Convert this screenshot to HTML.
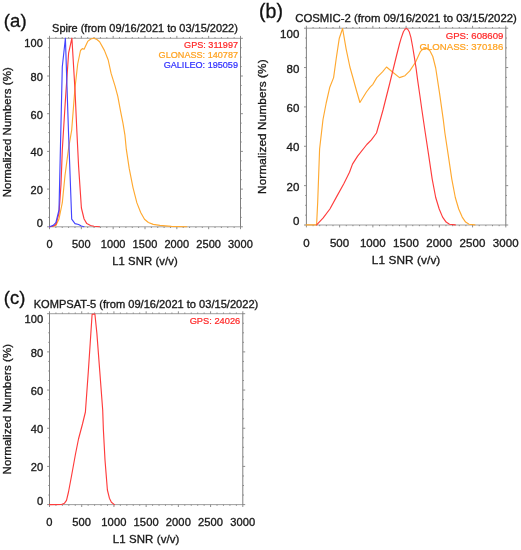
<!DOCTYPE html>
<html><head><meta charset="utf-8"><title>L1 SNR distributions</title>
<style>
html,body{margin:0;padding:0;background:#fff;}
svg{display:block;font-family:"Liberation Sans", sans-serif;}
text{stroke-width:0.34px;letter-spacing:0.1px;}
text.k{stroke:#1a1a1a;}
</style></head>
<body>
<svg width="521" height="550" viewBox="0 0 521 550">
<rect width="521" height="550" fill="#fff"/>
<path d="M49.5 38.0V227.10000000000002M240.5 38.0V227.10000000000002" stroke="#707070" stroke-width="0.9" fill="none"/>
<path d="M49.2 38.3H240.8M49.2 226.8H240.8" stroke="#8e8e8e" stroke-width="0.85" fill="none"/>
<path d="M49.50 226.8v2.4M49.50 38.3v-2.4M55.87 226.8v1.2M55.87 38.3v-1.2M62.23 226.8v1.2M62.23 38.3v-1.2M68.60 226.8v1.2M68.60 38.3v-1.2M74.97 226.8v1.2M74.97 38.3v-1.2M81.33 226.8v2.4M81.33 38.3v-2.4M87.70 226.8v1.2M87.70 38.3v-1.2M94.07 226.8v1.2M94.07 38.3v-1.2M100.43 226.8v1.2M100.43 38.3v-1.2M106.80 226.8v1.2M106.80 38.3v-1.2M113.17 226.8v2.4M113.17 38.3v-2.4M119.53 226.8v1.2M119.53 38.3v-1.2M125.90 226.8v1.2M125.90 38.3v-1.2M132.27 226.8v1.2M132.27 38.3v-1.2M138.63 226.8v1.2M138.63 38.3v-1.2M145.00 226.8v2.4M145.00 38.3v-2.4M151.37 226.8v1.2M151.37 38.3v-1.2M157.73 226.8v1.2M157.73 38.3v-1.2M164.10 226.8v1.2M164.10 38.3v-1.2M170.47 226.8v1.2M170.47 38.3v-1.2M176.83 226.8v2.4M176.83 38.3v-2.4M183.20 226.8v1.2M183.20 38.3v-1.2M189.57 226.8v1.2M189.57 38.3v-1.2M195.93 226.8v1.2M195.93 38.3v-1.2M202.30 226.8v1.2M202.30 38.3v-1.2M208.67 226.8v2.4M208.67 38.3v-2.4M215.03 226.8v1.2M215.03 38.3v-1.2M221.40 226.8v1.2M221.40 38.3v-1.2M227.77 226.8v1.2M227.77 38.3v-1.2M234.13 226.8v1.2M234.13 38.3v-1.2M240.50 226.8v2.4M240.50 38.3v-2.4M49.5 226.80h-2.4M240.5 226.80h2.4M49.5 217.38h-1.2M240.5 217.38h1.2M49.5 207.95h-1.2M240.5 207.95h1.2M49.5 198.53h-1.2M240.5 198.53h1.2M49.5 189.10h-2.4M240.5 189.10h2.4M49.5 179.68h-1.2M240.5 179.68h1.2M49.5 170.25h-1.2M240.5 170.25h1.2M49.5 160.83h-1.2M240.5 160.83h1.2M49.5 151.40h-2.4M240.5 151.40h2.4M49.5 141.98h-1.2M240.5 141.98h1.2M49.5 132.55h-1.2M240.5 132.55h1.2M49.5 123.13h-1.2M240.5 123.13h1.2M49.5 113.70h-2.4M240.5 113.70h2.4M49.5 104.28h-1.2M240.5 104.28h1.2M49.5 94.85h-1.2M240.5 94.85h1.2M49.5 85.43h-1.2M240.5 85.43h1.2M49.5 76.00h-2.4M240.5 76.00h2.4M49.5 66.58h-1.2M240.5 66.58h1.2M49.5 57.15h-1.2M240.5 57.15h1.2M49.5 47.73h-1.2M240.5 47.73h1.2M49.5 38.30h-2.4M240.5 38.30h2.4" stroke="#828282" stroke-width="0.9" fill="none"/>
<polyline points="49.5,226.7 52.7,226.3 55.9,225.4 59.0,219.0 62.3,202.7 65.0,175.5 68.6,148.2 71.7,130.0 75.0,87.7 77.7,64.0 80.5,50.5 82.3,48.6 84.1,49.2 87.7,41.4 90.8,39.0 93.8,38.2 96.9,39.5 99.6,41.7 104.4,50.4 108.2,60.0 111.1,73.4 115.0,85.9 117.8,96.4 120.7,111.8 123.0,123.3 124.9,134.8 126.3,149.2 129.2,168.4 133.0,187.6 136.9,202.9 140.7,212.5 144.5,219.3 148.4,222.5 153.2,224.4 159.9,225.4 171.4,226.4 186.8,226.7" fill="none" stroke="#ffa930" stroke-width="1.15" stroke-linejoin="round" stroke-linecap="round"/>
<polyline points="49.5,226.7 52.7,226.2 55.9,224.5 59.0,213.0 61.0,184.5 62.3,150.0 65.4,100.0 68.6,53.2 71.9,38.2 75.0,90.0 76.8,130.0 78.6,166.4 81.4,208.0 84.1,219.0 86.8,223.6 90.5,225.5 94.0,226.2 99.5,226.7" fill="none" stroke="#ff3c3c" stroke-width="1.15" stroke-linejoin="round" stroke-linecap="round"/>
<polyline points="49.5,226.7 53.2,225.4 55.9,222.7 59.0,210.0 62.3,66.8 65.4,38.2 68.6,135.0 71.7,219.1 75.0,223.6 78.6,224.5 81.3,226.0 84.0,226.7" fill="none" stroke="#4444ff" stroke-width="1.15" stroke-linejoin="round" stroke-linecap="round"/>
<text x="49.50" y="248.40" font-size="11" text-anchor="middle" fill="#1a1a1a" class="k">0</text>
<text x="81.33" y="248.40" font-size="11" text-anchor="middle" fill="#1a1a1a" class="k">500</text>
<text x="113.17" y="248.40" font-size="11" text-anchor="middle" fill="#1a1a1a" class="k">1000</text>
<text x="145.00" y="248.40" font-size="11" text-anchor="middle" fill="#1a1a1a" class="k">1500</text>
<text x="176.83" y="248.40" font-size="11" text-anchor="middle" fill="#1a1a1a" class="k">2000</text>
<text x="208.67" y="248.40" font-size="11" text-anchor="middle" fill="#1a1a1a" class="k">2500</text>
<text x="240.50" y="248.40" font-size="11" text-anchor="middle" fill="#1a1a1a" class="k">3000</text>
<text x="43.00" y="227.00" font-size="11" text-anchor="end" fill="#1a1a1a" class="k">0</text>
<text x="43.00" y="194.10" font-size="11" text-anchor="end" fill="#1a1a1a" class="k">20</text>
<text x="43.00" y="156.40" font-size="11" text-anchor="end" fill="#1a1a1a" class="k">40</text>
<text x="43.00" y="118.70" font-size="11" text-anchor="end" fill="#1a1a1a" class="k">60</text>
<text x="43.00" y="81.00" font-size="11" text-anchor="end" fill="#1a1a1a" class="k">80</text>
<text x="43.00" y="47.30" font-size="11" text-anchor="end" fill="#1a1a1a" class="k">100</text>
<text x="52.1" y="32.4" font-size="10.96" fill="#1a1a1a" class="k" style="letter-spacing:0">Spire (from 09/16/2021 to 03/15/2022)</text>
<text x="145.00" y="264.5" font-size="11.27" text-anchor="middle" fill="#1a1a1a" class="k">L1 SNR (v/v)</text>
<text transform="translate(11.0,132.25) rotate(-90)" font-size="11.4" text-anchor="middle" fill="#1a1a1a" class="k">Normalized Numbers (%)</text>
<text transform="translate(238,48.10) scale(1,1.02)" font-size="9.1" text-anchor="end" fill="#ff2828" stroke="#ff2828" style="stroke-width:0.22px;letter-spacing:0">GPS: 311997</text>
<text transform="translate(238,58.20) scale(1,1.02)" font-size="9.1" text-anchor="end" fill="#ffa220" stroke="#ffa220" style="stroke-width:0.22px;letter-spacing:0">GLONASS: 140787</text>
<text transform="translate(238,68.30) scale(1,1.02)" font-size="9.1" text-anchor="end" fill="#3030ff" stroke="#3030ff" style="stroke-width:0.22px;letter-spacing:0">GALILEO: 195059</text>
<text x="3.8" y="27.3" font-size="18.5" fill="#111" class="k">(a)</text>
<path d="M306.4 27.9V225.3M505.8 27.9V225.3" stroke="#707070" stroke-width="0.9" fill="none"/>
<path d="M306.09999999999997 28.2H506.1M306.09999999999997 225.0H506.1" stroke="#8e8e8e" stroke-width="0.85" fill="none"/>
<path d="M306.40 225.0v2.4M306.40 28.2v-2.4M313.05 225.0v1.2M313.05 28.2v-1.2M319.69 225.0v1.2M319.69 28.2v-1.2M326.34 225.0v1.2M326.34 28.2v-1.2M332.99 225.0v1.2M332.99 28.2v-1.2M339.63 225.0v2.4M339.63 28.2v-2.4M346.28 225.0v1.2M346.28 28.2v-1.2M352.93 225.0v1.2M352.93 28.2v-1.2M359.57 225.0v1.2M359.57 28.2v-1.2M366.22 225.0v1.2M366.22 28.2v-1.2M372.87 225.0v2.4M372.87 28.2v-2.4M379.51 225.0v1.2M379.51 28.2v-1.2M386.16 225.0v1.2M386.16 28.2v-1.2M392.81 225.0v1.2M392.81 28.2v-1.2M399.45 225.0v1.2M399.45 28.2v-1.2M406.10 225.0v2.4M406.10 28.2v-2.4M412.75 225.0v1.2M412.75 28.2v-1.2M419.39 225.0v1.2M419.39 28.2v-1.2M426.04 225.0v1.2M426.04 28.2v-1.2M432.69 225.0v1.2M432.69 28.2v-1.2M439.33 225.0v2.4M439.33 28.2v-2.4M445.98 225.0v1.2M445.98 28.2v-1.2M452.63 225.0v1.2M452.63 28.2v-1.2M459.27 225.0v1.2M459.27 28.2v-1.2M465.92 225.0v1.2M465.92 28.2v-1.2M472.57 225.0v2.4M472.57 28.2v-2.4M479.21 225.0v1.2M479.21 28.2v-1.2M485.86 225.0v1.2M485.86 28.2v-1.2M492.51 225.0v1.2M492.51 28.2v-1.2M499.15 225.0v1.2M499.15 28.2v-1.2M505.80 225.0v2.4M505.80 28.2v-2.4M306.4 225.00h-2.4M505.8 225.00h2.4M306.4 215.16h-1.2M505.8 215.16h1.2M306.4 205.32h-1.2M505.8 205.32h1.2M306.4 195.48h-1.2M505.8 195.48h1.2M306.4 185.64h-2.4M505.8 185.64h2.4M306.4 175.80h-1.2M505.8 175.80h1.2M306.4 165.96h-1.2M505.8 165.96h1.2M306.4 156.12h-1.2M505.8 156.12h1.2M306.4 146.28h-2.4M505.8 146.28h2.4M306.4 136.44h-1.2M505.8 136.44h1.2M306.4 126.60h-1.2M505.8 126.60h1.2M306.4 116.76h-1.2M505.8 116.76h1.2M306.4 106.92h-2.4M505.8 106.92h2.4M306.4 97.08h-1.2M505.8 97.08h1.2M306.4 87.24h-1.2M505.8 87.24h1.2M306.4 77.40h-1.2M505.8 77.40h1.2M306.4 67.56h-2.4M505.8 67.56h2.4M306.4 57.72h-1.2M505.8 57.72h1.2M306.4 47.88h-1.2M505.8 47.88h1.2M306.4 38.04h-1.2M505.8 38.04h1.2M306.4 28.20h-2.4M505.8 28.20h2.4" stroke="#828282" stroke-width="0.9" fill="none"/>
<polyline points="306.2,224.9 316.6,224.9 317.7,202.0 319.6,149.0 323.0,119.5 326.2,103.0 329.8,87.2 333.6,77.6 336.3,58.0 339.3,38.2 342.6,28.5 346.1,48.8 349.9,67.0 353.0,78.0 356.3,90.0 359.9,102.5 363.0,97.5 366.4,92.0 370.1,87.2 372.9,84.3 376.8,77.6 382.5,71.8 386.5,67.0 393.4,72.8 399.5,77.6 405.0,75.7 409.8,70.9 415.5,62.2 420.3,51.7 423.2,48.8 427.0,48.4 429.9,50.7 432.8,56.5 435.7,68.0 439.5,92.9 443.3,119.8 444.9,133.0 448.4,156.1 451.8,179.1 455.3,197.5 458.7,209.0 462.2,217.1 465.6,222.1 469.1,224.2 474.9,224.9" fill="none" stroke="#ffa930" stroke-width="1.15" stroke-linejoin="round" stroke-linecap="round"/>
<polyline points="316.6,224.9 323.0,218.2 329.9,209.0 336.8,196.4 343.8,183.7 349.5,172.2 352.5,164.1 357.6,156.1 366.8,144.5 371.4,139.9 376.5,133.0 379.8,121.5 383.0,110.0 386.4,96.5 389.7,83.5 393.0,70.0 396.3,56.5 399.6,43.5 401.1,38.4 403.4,31.7 405.0,29.3 406.3,28.5 407.7,29.3 409.2,31.7 410.9,37.3 412.6,46.5 414.3,56.9 416.1,68.4 417.6,79.9 419.8,95.0 421.9,110.0 425.3,133.0 428.8,156.1 432.2,179.1 435.7,197.5 439.2,209.0 442.6,217.1 446.1,222.1 449.5,224.2 455.3,224.9" fill="none" stroke="#ff3c3c" stroke-width="1.15" stroke-linejoin="round" stroke-linecap="round"/>
<text x="306.40" y="246.70" font-size="11.5" text-anchor="middle" fill="#1a1a1a" class="k">0</text>
<text x="339.63" y="246.70" font-size="11.5" text-anchor="middle" fill="#1a1a1a" class="k">500</text>
<text x="372.87" y="246.70" font-size="11.5" text-anchor="middle" fill="#1a1a1a" class="k">1000</text>
<text x="406.10" y="246.70" font-size="11.5" text-anchor="middle" fill="#1a1a1a" class="k">1500</text>
<text x="439.33" y="246.70" font-size="11.5" text-anchor="middle" fill="#1a1a1a" class="k">2000</text>
<text x="472.57" y="246.70" font-size="11.5" text-anchor="middle" fill="#1a1a1a" class="k">2500</text>
<text x="505.80" y="246.70" font-size="11.5" text-anchor="middle" fill="#1a1a1a" class="k">3000</text>
<text x="299.60" y="225.20" font-size="11.5" text-anchor="end" fill="#1a1a1a" class="k">0</text>
<text x="299.60" y="190.84" font-size="11.5" text-anchor="end" fill="#1a1a1a" class="k">20</text>
<text x="299.60" y="151.48" font-size="11.5" text-anchor="end" fill="#1a1a1a" class="k">40</text>
<text x="299.60" y="112.12" font-size="11.5" text-anchor="end" fill="#1a1a1a" class="k">60</text>
<text x="299.60" y="72.76" font-size="11.5" text-anchor="end" fill="#1a1a1a" class="k">80</text>
<text x="299.60" y="37.50" font-size="11.5" text-anchor="end" fill="#1a1a1a" class="k">100</text>
<text x="295.2" y="22.1" font-size="11.36" fill="#1a1a1a" class="k" style="letter-spacing:0">COSMIC-2 (from 09/16/2021 to 03/15/2022)</text>
<text x="406.10" y="264.1" font-size="11.79" text-anchor="middle" fill="#1a1a1a" class="k">L1 SNR (v/v)</text>
<text transform="translate(266.4,126.60) rotate(-90)" font-size="11.8" text-anchor="middle" fill="#1a1a1a" class="k">Normalized Numbers (%)</text>
<text transform="translate(503.3,38.60) scale(1,1.02)" font-size="9.6" text-anchor="end" fill="#ff2828" stroke="#ff2828" style="stroke-width:0.22px;letter-spacing:0">GPS: 608609</text>
<text transform="translate(503.3,49.50) scale(1,1.02)" font-size="9.6" text-anchor="end" fill="#ffa220" stroke="#ffa220" style="stroke-width:0.22px;letter-spacing:0">GLONASS: 370186</text>
<text x="259.0" y="17.5" font-size="19.5" fill="#111" class="k">(b)</text>
<path d="M49.5 313.4V504.90000000000003M242.8 313.4V504.90000000000003" stroke="#707070" stroke-width="0.9" fill="none"/>
<path d="M49.2 313.7H243.10000000000002M49.2 504.6H243.10000000000002" stroke="#8e8e8e" stroke-width="0.85" fill="none"/>
<path d="M49.50 504.6v2.4M49.50 313.7v-2.4M55.94 504.6v1.2M55.94 313.7v-1.2M62.39 504.6v1.2M62.39 313.7v-1.2M68.83 504.6v1.2M68.83 313.7v-1.2M75.27 504.6v1.2M75.27 313.7v-1.2M81.72 504.6v2.4M81.72 313.7v-2.4M88.16 504.6v1.2M88.16 313.7v-1.2M94.60 504.6v1.2M94.60 313.7v-1.2M101.05 504.6v1.2M101.05 313.7v-1.2M107.49 504.6v1.2M107.49 313.7v-1.2M113.93 504.6v2.4M113.93 313.7v-2.4M120.38 504.6v1.2M120.38 313.7v-1.2M126.82 504.6v1.2M126.82 313.7v-1.2M133.26 504.6v1.2M133.26 313.7v-1.2M139.71 504.6v1.2M139.71 313.7v-1.2M146.15 504.6v2.4M146.15 313.7v-2.4M152.59 504.6v1.2M152.59 313.7v-1.2M159.04 504.6v1.2M159.04 313.7v-1.2M165.48 504.6v1.2M165.48 313.7v-1.2M171.92 504.6v1.2M171.92 313.7v-1.2M178.37 504.6v2.4M178.37 313.7v-2.4M184.81 504.6v1.2M184.81 313.7v-1.2M191.25 504.6v1.2M191.25 313.7v-1.2M197.70 504.6v1.2M197.70 313.7v-1.2M204.14 504.6v1.2M204.14 313.7v-1.2M210.58 504.6v2.4M210.58 313.7v-2.4M217.03 504.6v1.2M217.03 313.7v-1.2M223.47 504.6v1.2M223.47 313.7v-1.2M229.91 504.6v1.2M229.91 313.7v-1.2M236.36 504.6v1.2M236.36 313.7v-1.2M242.80 504.6v2.4M242.80 313.7v-2.4M49.5 504.60h-2.4M242.8 504.60h2.4M49.5 495.06h-1.2M242.8 495.06h1.2M49.5 485.51h-1.2M242.8 485.51h1.2M49.5 475.97h-1.2M242.8 475.97h1.2M49.5 466.42h-2.4M242.8 466.42h2.4M49.5 456.88h-1.2M242.8 456.88h1.2M49.5 447.33h-1.2M242.8 447.33h1.2M49.5 437.79h-1.2M242.8 437.79h1.2M49.5 428.24h-2.4M242.8 428.24h2.4M49.5 418.69h-1.2M242.8 418.69h1.2M49.5 409.15h-1.2M242.8 409.15h1.2M49.5 399.61h-1.2M242.8 399.61h1.2M49.5 390.06h-2.4M242.8 390.06h2.4M49.5 380.51h-1.2M242.8 380.51h1.2M49.5 370.97h-1.2M242.8 370.97h1.2M49.5 361.43h-1.2M242.8 361.43h1.2M49.5 351.88h-2.4M242.8 351.88h2.4M49.5 342.34h-1.2M242.8 342.34h1.2M49.5 332.79h-1.2M242.8 332.79h1.2M49.5 323.25h-1.2M242.8 323.25h1.2M49.5 313.70h-2.4M242.8 313.70h2.4" stroke="#828282" stroke-width="0.9" fill="none"/>
<polyline points="49.5,504.6 61.5,504.5 64.5,503.2 66.5,500.3 68.5,492.0 71.5,476.0 75.5,454.0 78.5,439.0 82.5,424.0 85.4,412.0 88.3,371.8 90.2,343.2 92.1,314.4 94.9,314.0 96.9,333.6 99.8,371.8 102.7,410.0 103.4,430.0 105.0,460.0 107.4,490.0 109.4,498.2 111.4,502.2 114.4,504.6" fill="none" stroke="#ff3c3c" stroke-width="1.15" stroke-linejoin="round" stroke-linecap="round"/>
<text x="49.50" y="526.40" font-size="11.15" text-anchor="middle" fill="#1a1a1a" class="k">0</text>
<text x="81.72" y="526.40" font-size="11.15" text-anchor="middle" fill="#1a1a1a" class="k">500</text>
<text x="113.93" y="526.40" font-size="11.15" text-anchor="middle" fill="#1a1a1a" class="k">1000</text>
<text x="146.15" y="526.40" font-size="11.15" text-anchor="middle" fill="#1a1a1a" class="k">1500</text>
<text x="178.37" y="526.40" font-size="11.15" text-anchor="middle" fill="#1a1a1a" class="k">2000</text>
<text x="210.58" y="526.40" font-size="11.15" text-anchor="middle" fill="#1a1a1a" class="k">2500</text>
<text x="242.80" y="526.40" font-size="11.15" text-anchor="middle" fill="#1a1a1a" class="k">3000</text>
<text x="43.40" y="504.80" font-size="11.15" text-anchor="end" fill="#1a1a1a" class="k">0</text>
<text x="43.40" y="471.42" font-size="11.15" text-anchor="end" fill="#1a1a1a" class="k">20</text>
<text x="43.40" y="433.24" font-size="11.15" text-anchor="end" fill="#1a1a1a" class="k">40</text>
<text x="43.40" y="395.06" font-size="11.15" text-anchor="end" fill="#1a1a1a" class="k">60</text>
<text x="43.40" y="356.88" font-size="11.15" text-anchor="end" fill="#1a1a1a" class="k">80</text>
<text x="43.40" y="322.70" font-size="11.15" text-anchor="end" fill="#1a1a1a" class="k">100</text>
<text x="33.7" y="307.8" font-size="11.08" fill="#1a1a1a" class="k" style="letter-spacing:0">KOMPSAT-5 (from 09/16/2021 to 03/15/2022)</text>
<text x="146.15" y="542.6" font-size="11.43" text-anchor="middle" fill="#1a1a1a" class="k">L1 SNR (v/v)</text>
<text transform="translate(11.0,409.15) rotate(-90)" font-size="11.45" text-anchor="middle" fill="#1a1a1a" class="k">Normalized Numbers (%)</text>
<text transform="translate(240.2,324.10) scale(1,1.02)" font-size="9.3" text-anchor="end" fill="#ff2828" stroke="#ff2828" style="stroke-width:0.22px;letter-spacing:0">GPS: 24026</text>
<text x="3.8" y="303.6" font-size="18.4" fill="#111" class="k">(c)</text>
</svg>
</body></html>
